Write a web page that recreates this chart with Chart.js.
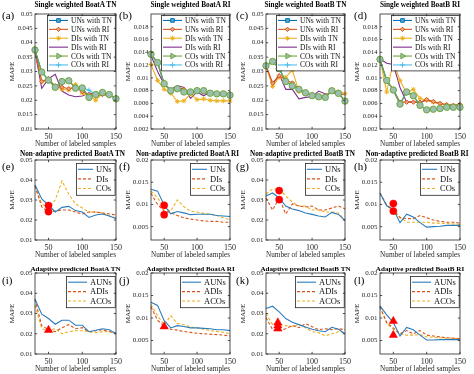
<!DOCTYPE html>
<html><head><meta charset="utf-8">
<script src="https://cdn.jsdelivr.net/npm/chart.js@4.4.1/dist/chart.umd.min.js"></script>
<style>
html,body{margin:0;padding:0;background:#fff;width:474px;height:374px;overflow:hidden;position:relative;}
canvas{position:absolute;}
.txt{position:absolute;white-space:nowrap;font-family:"Liberation Serif","Times New Roman",serif;color:#000;line-height:1;}
</style></head><body>
<script>
// ---------- data ----------
const samples = [30,40,50,60,70,80,90,100,110,120,130,140,150];
const xTicks = [50,100,150];
const yTicksA = [0.01,0.015,0.02,0.025,0.03,0.035,0.04,0.045,0.05];
const yTicksB = [0.002,0.004,0.006,0.008,0.01,0.012,0.014,0.016,0.018];
const yTicksE = [0.01,0.02,0.03,0.04,0.05];
const yTicksF = [0.005,0.01,0.015,0.02];
const rangeWide = [0.01,0.05];
const rangeNarrow = [0.002,0.02];

const row1Names = ['UNs with TN','UNs with RI','DIs with TN','DIs with RI','COs with TN','COs with RI'];
const row2Names = ['UNs','DIs','COs'];
const row3Names = ['AUNs','ADIs','ACOs'];
const panelLetters = ['(a)','(b)','(c)','(d)','(e)','(f)','(g)','(h)','(i)','(j)','(k)','(l)'];
const panelTitles = ['Single weighted BoatA TN','Single weighted BoatA RI','Single weighted BoatB TN','Single weighted BoatB RI',
  'Non-adaptive predicted BoatA TN','Non-adaptive predicted BoatA RI','Non-adaptive predicted BoatB TN','Non-adaptive predicted BoatB RI',
  'Adaptive predicted BoatA TN','Adaptive predicted BoatA RI','Adaptive predicted BoatB TN','Adaptive predicted BoatB RI'];
const xTitle = 'Number of labeled samples';
const yTitle = 'MAPE';

// (a)
const a_UNsTN = [0.0375,0.0298,0.027,0.0245,0.0265,0.0268,0.0242,0.0243,0.021,0.022,0.0227,0.022,0.0205];
const a_UNsRI = [0.0375,0.0265,0.0275,0.0248,0.0245,0.024,0.0245,0.023,0.022,0.0215,0.022,0.0215,0.021];
const a_DIsTN = [0.0375,0.0265,0.027,0.025,0.0238,0.0235,0.0255,0.0225,0.0215,0.02,0.0225,0.022,0.0205];
const a_DIsRI = [0.037,0.0241,0.0275,0.029,0.0232,0.0218,0.0212,0.0215,0.0225,0.0222,0.0225,0.0215,0.0212];
const a_COsTN = [0.0375,0.0298,0.027,0.0245,0.0265,0.0268,0.0242,0.0243,0.021,0.022,0.0227,0.022,0.0205];
const a_COsRI = [0.0375,0.0298,0.027,0.0245,0.0265,0.0268,0.0242,0.0243,0.0235,0.022,0.0227,0.022,0.0205];
// (b)
const b_UNsTN = [0.0137,0.0124,0.0091,0.008,0.0083,0.0078,0.0078,0.008,0.008,0.0076,0.0075,0.0075,0.0073];
const b_UNsRI = [0.0137,0.0124,0.009,0.008,0.0085,0.0082,0.0078,0.008,0.0078,0.0076,0.0075,0.0075,0.0073];
const b_DIsTN = [0.0121,0.0096,0.0082,0.0076,0.0063,0.0064,0.0075,0.0066,0.0067,0.0065,0.0064,0.0064,0.0064];
const b_DIsRI = [0.0135,0.011,0.009,0.0082,0.0088,0.0085,0.0068,0.0078,0.0072,0.0078,0.0076,0.0075,0.0073];
const b_COsTN = [0.0137,0.0124,0.0091,0.008,0.0083,0.0078,0.0078,0.008,0.008,0.0076,0.0075,0.0075,0.0073];
const b_COsRI = [0.0137,0.0124,0.0091,0.008,0.0083,0.0078,0.0078,0.008,0.008,0.0076,0.0075,0.0075,0.0073];
// (c)
const c_UNsTN = [0.032,0.0335,0.031,0.0265,0.025,0.0238,0.0226,0.0216,0.0212,0.021,0.0233,0.0224,0.0197];
const c_UNsRI = [0.032,0.026,0.0285,0.027,0.026,0.024,0.0225,0.0218,0.021,0.021,0.0233,0.0225,0.02];
const c_DIsTN = [0.032,0.0248,0.028,0.028,0.0305,0.023,0.0225,0.022,0.0215,0.0215,0.0235,0.023,0.0223];
const c_DIsRI = [0.032,0.0255,0.029,0.0238,0.0238,0.0205,0.021,0.0212,0.0232,0.0222,0.0225,0.0222,0.022];
const c_COsTN = [0.032,0.0335,0.031,0.0265,0.025,0.0238,0.0226,0.0216,0.0212,0.021,0.0233,0.0224,0.0197];
const c_COsRI = [0.032,0.0335,0.031,0.0265,0.025,0.0238,0.0226,0.0216,0.0212,0.021,0.0233,0.0224,0.0197];
// (d)
const d_UNsTN = [0.0129,0.0096,0.0081,0.0059,0.0078,0.0072,0.0057,0.005,0.0051,0.0052,0.0054,0.0054,0.0054];
const d_UNsRI = [0.013,0.0095,0.0082,0.0062,0.0062,0.0062,0.0062,0.0066,0.0063,0.006,0.0058,0.0057,0.0058];
const d_DIsTN = [0.013,0.0078,0.0125,0.0096,0.0076,0.0082,0.0068,0.0065,0.0062,0.006,0.0058,0.0057,0.0058];
const d_DIsRI = [0.013,0.0123,0.0121,0.0085,0.0062,0.0062,0.0062,0.0065,0.0062,0.006,0.0058,0.0057,0.0058];
const d_COsTN = [0.0129,0.0096,0.0081,0.0059,0.0078,0.0072,0.0057,0.005,0.0051,0.0052,0.0054,0.0054,0.0054];
const d_COsRI = [0.0129,0.0096,0.0081,0.0059,0.0078,0.0072,0.0057,0.005,0.0051,0.0052,0.0054,0.0054,0.0054];
// (e)
const e_UNs = [0.0375,0.0305,0.0275,0.024,0.0263,0.0268,0.0247,0.024,0.0213,0.0225,0.023,0.022,0.0208];
const e_DIs = [0.037,0.0265,0.024,0.0245,0.025,0.025,0.024,0.023,0.024,0.024,0.0235,0.023,0.0225];
const e_COs = [0.037,0.028,0.026,0.03,0.0395,0.033,0.028,0.026,0.024,0.024,0.0235,0.022,0.021];
// (f)
const f_UNs = [0.0134,0.013,0.0098,0.0079,0.0084,0.0081,0.0077,0.0078,0.0078,0.0078,0.0075,0.0074,0.0073];
const f_DIs = [0.0125,0.01,0.0085,0.0082,0.0075,0.007,0.0067,0.0065,0.0063,0.0062,0.0062,0.006,0.006];
const f_COs = [0.013,0.0115,0.0092,0.0085,0.011,0.0095,0.0085,0.0083,0.008,0.0078,0.0075,0.007,0.0065];
// (g)
const g_UNs = [0.032,0.0335,0.031,0.027,0.0255,0.0247,0.0235,0.0228,0.022,0.0215,0.0238,0.0228,0.0198];
const g_DIs = [0.031,0.025,0.031,0.023,0.028,0.027,0.0265,0.027,0.025,0.025,0.026,0.027,0.0255];
const g_COs = [0.033,0.0355,0.0355,0.032,0.029,0.027,0.027,0.025,0.025,0.024,0.024,0.0235,0.02];
// (h)
const h_UNs = [0.0126,0.0097,0.0089,0.0059,0.0078,0.0072,0.0059,0.0049,0.005,0.0051,0.0053,0.0053,0.0053];
const h_DIs = [0.0125,0.0098,0.0085,0.007,0.0068,0.0068,0.0075,0.007,0.0065,0.0062,0.006,0.006,0.0058];
const h_COs = [0.0125,0.01,0.0088,0.0072,0.006,0.006,0.006,0.006,0.0058,0.0058,0.0057,0.0056,0.0055];
// (i)
const i_AUNs = [0.037,0.0297,0.0275,0.0247,0.0267,0.0267,0.0242,0.0242,0.021,0.0217,0.0225,0.022,0.02];
const i_ADIs = [0.037,0.024,0.022,0.021,0.023,0.0245,0.0225,0.023,0.021,0.0215,0.022,0.021,0.0205];
const i_ACOs = [0.034,0.0225,0.0215,0.0225,0.02,0.021,0.0215,0.0215,0.021,0.0205,0.021,0.021,0.02];
// (j)
const j_AUNs = [0.0135,0.0128,0.0094,0.0078,0.0083,0.0081,0.0078,0.0078,0.0077,0.0076,0.0074,0.0074,0.0072];
const j_ADIs = [0.0125,0.0095,0.0082,0.0075,0.0073,0.007,0.0068,0.0066,0.0065,0.0064,0.0063,0.0062,0.006];
const j_ACOs = [0.013,0.0105,0.0085,0.0105,0.0088,0.0085,0.008,0.0078,0.0075,0.0072,0.007,0.0068,0.0065];
// (k)
const k_AUNs = [0.0325,0.0336,0.0308,0.0275,0.0257,0.0245,0.0233,0.0222,0.0215,0.021,0.0232,0.0222,0.02];
const k_ADIs = [0.028,0.022,0.0215,0.0225,0.024,0.023,0.025,0.0235,0.022,0.0225,0.022,0.0225,0.022];
const k_ACOs = [0.03,0.0245,0.0245,0.024,0.0235,0.0245,0.023,0.021,0.0205,0.019,0.02,0.021,0.0205];
// (l)
const l_AUNs = [0.0127,0.0107,0.009,0.006,0.0079,0.0074,0.0062,0.0051,0.0051,0.0052,0.0052,0.0052,0.0052];
const l_ADIs = [0.0125,0.009,0.0078,0.0065,0.0072,0.0065,0.0072,0.0062,0.006,0.0058,0.0056,0.0055,0.0054];
const l_ACOs = [0.0125,0.0088,0.0075,0.0065,0.0062,0.0062,0.0063,0.0058,0.0057,0.0056,0.0055,0.0055,0.0054];

// highlighted points (red markers)
const markX = [50,50,50,50,50,50,48,50];
const e_marks = [0.0272,0.0242];
const f_marks = [0.0098,0.0077];
const g_marks = [0.0347,0.0302];
const h_marks = [0.0102,0.0085];
const i_marks = [0.0218];
const j_marks = [0.0081];
const k_marks = [0.0255,0.024,0.0225];
const l_marks = [0.0093,0.0062];

// ---------- styles ----------
const FONT = '"Liberation Serif","Times New Roman",serif';
const colLeft = [35,151,266,380], colRight = [116,230,345,460];
const rowTop = [14,160,273], rowBottom = [129,240,354];
const row1Styles = [
  {color:'#0072BD', ps:'rect', r:2.6, fill:'#5aa9b8', lps:'rect', order:2},
  {color:'#D95319', ps:'rectRot', r:2.2, fill:'#e8a47c', lps:'rectRot', order:3},
  {color:'#EDB120', ps:'star', r:2.4, fill:'#EDB120', lps:'star', order:4},
  {color:'#7E2F8E', ps:'circle', r:0, fill:'#7E2F8E', lps:null, order:5},
  {color:'#6fa53a', ps:'circle', r:3.2, fill:'#9bbfb2', lps:'triangle', lrot:90, order:0},
  {color:'#4DBEEE', ps:'cross', r:2.6, fill:'#4DBEEE', lps:'cross', order:1}
];
const row23Styles = [
  {color:'#2b7cbc', dash:[], order:0},
  {color:'#D95319', dash:[3,2], order:1},
  {color:'#EDB120', dash:[3,2], order:2}
];

function fmt(v){ return String(parseFloat(Number(v).toFixed(4))); }

const framePlugin = {
  id:'frame',
  afterDraw(chart){
    const {ctx, chartArea:a, scales} = chart;
    ctx.save();
    ctx.strokeStyle = '#262626'; ctx.lineWidth = 0.8;
    ctx.strokeRect(a.left, a.top, a.right-a.left, a.bottom-a.top);
    const tl = 2.2;
    ctx.beginPath();
    scales.x.ticks.forEach(t=>{
      const px = scales.x.getPixelForValue(t.value);
      ctx.moveTo(px, a.bottom); ctx.lineTo(px, a.bottom-tl);
      ctx.moveTo(px, a.top); ctx.lineTo(px, a.top+tl);
    });
    scales.y.ticks.forEach(t=>{
      const py = scales.y.getPixelForValue(t.value);
      ctx.moveTo(a.left, py); ctx.lineTo(a.left+tl, py);
      ctx.moveTo(a.right, py); ctx.lineTo(a.right-tl, py);
    });
    ctx.stroke();
    ctx.restore();
  }
};

const legendPlugin = {
  id:'boxLegend',
  afterDatasetsDraw(chart, args, o){
    const {ctx, chartArea:a} = chart;
    const items = chart.data.datasets.filter(d=>!d.noLegend);
    ctx.save();
    ctx.font = o.fontSize + 'px ' + FONT;
    const tw = Math.max(...items.map(d=>ctx.measureText(d.label).width));
    const w = o.padL + o.sample + o.gap + tw + o.padR;
    const h = items.length*o.rowH + 2*o.padV;
    const x0 = Math.round(a.right - o.marginR - w), y0 = Math.round(a.top + o.marginT);
    ctx.fillStyle = '#fff'; ctx.fillRect(x0, y0, w, h);
    ctx.strokeStyle = '#262626'; ctx.lineWidth = 0.8; ctx.strokeRect(x0+0.5, y0+0.5, w, h);
    items.forEach((d,i)=>{
      const cy = y0 + o.padV + o.rowH*(i+0.5);
      const sx = x0 + o.padL;
      ctx.strokeStyle = d.borderColor; ctx.lineWidth = d.borderWidth;
      ctx.setLineDash(d.borderDash || []);
      ctx.beginPath(); ctx.moveTo(sx, cy); ctx.lineTo(sx+o.sample, cy); ctx.stroke();
      ctx.setLineDash([]);
      if (d.legendStyle && Chart.helpers && Chart.helpers.drawPoint) {
        ctx.fillStyle = d.pointBackgroundColor; ctx.strokeStyle = d.pointBorderColor; ctx.lineWidth = 1;
        Chart.helpers.drawPoint(ctx, {pointStyle:d.legendStyle, radius:d.pointRadius, rotation:d.legendRotation||0, borderWidth:1}, sx+o.sample/2, cy);
      }
      ctx.fillStyle = '#111'; ctx.textBaseline = 'middle'; ctx.textAlign = 'left';
      ctx.fillText(d.label, sx+o.sample+o.gap, cy+0.5);
    });
    ctx.restore();
  }
};

const legendRow = [
  {fontSize:7.5, rowH:8.9, padV:1, padL:2, sample:19, gap:3, padR:3, marginR:1.5, marginT:1},
  {fontSize:8.5, rowH:9.6, padV:1.5, padL:2, sample:15, gap:3, padR:3, marginR:1.5, marginT:3},
  {fontSize:8.5, rowH:9.4, padV:1.5, padL:2, sample:19, gap:3, padR:3, marginR:1.5, marginT:3}
];

function addText(text, x, y, size, bold, center){
  const d = document.createElement('div');
  d.className = 'txt'; d.textContent = text;
  d.style.fontSize = size+'px'; d.style.fontWeight = bold ? 'bold' : 'normal';
  d.style.left = x+'px'; d.style.top = (y - size/2)+'px';
  if (center) d.style.transform = 'translateX(-50%)';
  document.body.appendChild(d);
}

function makePanel(idx, seriesNames, seriesValues, styles, range, yTicks, marks, mx){
  const row = Math.floor(idx/4), col = idx%4;
  const pl = colLeft[col], pr = colRight[col], pt = rowTop[row], pb = rowBottom[row];
  const LM = 36, TM = 16, RM = 10, BM = 20;
  const cv = document.createElement('canvas');
  const W = pr - pl + LM + RM, H = pb - pt + TM + BM;
  cv.width = W; cv.height = H; cv.style.width = W+'px'; cv.style.height = H+'px';
  cv.style.left = (pl-LM)+'px'; cv.style.top = (pt-TM)+'px';
  document.body.appendChild(cv);

  const datasets = seriesNames.map((name, s)=>{
    const st = styles[s];
    return {
      label:name,
      data: samples.map((x,k)=>({x:x, y:seriesValues[s][k]})),
      borderColor: st.color, borderWidth: 1.1,
      borderDash: st.dash || [], order: st.order, clip: 6,
      pointRadius: row===0 ? st.r : 0,
      pointStyle: st.ps || 'circle',
      pointBackgroundColor: st.fill || st.color, pointBorderColor: st.color,
      pointBorderWidth: 1, tension: 0, fill:false,
      legendStyle: row===0 ? st.lps : null, legendRotation: st.lrot || 0
    };
  });
  if (marks) {
    datasets.push({
      label:'marks', noLegend:true, showLine:false, order:-1, clip:8,
      data: marks.map(v=>({x:mx, y:v})),
      pointStyle: row===2 ? 'triangle' : 'circle',
      pointRadius: row===2 ? 4.8 : 3.6,
      pointBackgroundColor:'#ff0000', pointBorderColor:'#ff0000', pointBorderWidth:0.5,
      borderColor:'#ff0000', borderWidth:0
    });
  }
  new Chart(cv, {
    type:'line',
    data:{datasets},
    options:{
      responsive:false, animation:false, devicePixelRatio:1,
      events:[],
      layout:{padding:{top:TM, right:RM, left:0, bottom:0}},
      plugins:{legend:{display:false}, tooltip:{enabled:false}, title:{display:false},
        boxLegend: legendRow[row]},
      scales:{
        x:{type:'linear', min:30, max:150,
          afterBuildTicks:s=>{ s.ticks = xTicks.map(v=>({value:v})); },
          afterFit:s=>{ s.height = BM; },
          grid:{display:false, drawTicks:false}, border:{display:false},
          ticks:{font:{family:FONT, size:8}, color:'#262626', padding:3, maxRotation:0, autoSkip:false},
          title:{display:true, text:xTitle, font:{family:FONT, size:7.5}, color:'#262626', padding:0}
        },
        y:{type:'linear', min:range[0], max:range[1],
          afterBuildTicks:s=>{ s.ticks = yTicks.map(v=>({value:v})); },
          afterFit:s=>{ s.width = LM; },
          grid:{display:false, drawTicks:false}, border:{display:false},
          ticks:{font:{family:FONT, size: row===0 ? 6.6 : 7}, color:'#262626', padding:2.5, callback:v=>fmt(v), autoSkip:false},
          title:{display:true, text:yTitle, font:{family:FONT, size:7}, color:'#262626', padding:{top:8.5, bottom:0}}
        }
      }
    },
    plugins:[legendPlugin, framePlugin]
  });

  const titleY = [5, 154.5, 269.3][row];
  const tsize = [7.3, 7.2, 7.1][row];
  addText(panelTitles[idx], (pl+pr)/2 - (row===1 ? 3 : 0), titleY, tsize, true, true);
  const letterX = [2,119,236,354][col];
  const letterY = [15,166,280][row];
  addText(panelLetters[idx], letterX, letterY, 11, false, false);
}

makePanel(0, row1Names, [a_UNsTN,a_UNsRI,a_DIsTN,a_DIsRI,a_COsTN,a_COsRI], row1Styles, rangeWide, yTicksA, null, 0);
makePanel(1, row1Names, [b_UNsTN,b_UNsRI,b_DIsTN,b_DIsRI,b_COsTN,b_COsRI], row1Styles, rangeNarrow, yTicksB, null, 0);
makePanel(2, row1Names, [c_UNsTN,c_UNsRI,c_DIsTN,c_DIsRI,c_COsTN,c_COsRI], row1Styles, rangeWide, yTicksA, null, 0);
makePanel(3, row1Names, [d_UNsTN,d_UNsRI,d_DIsTN,d_DIsRI,d_COsTN,d_COsRI], row1Styles, rangeNarrow, yTicksB, null, 0);
makePanel(4, row2Names, [e_UNs,e_DIs,e_COs], row23Styles, rangeWide, yTicksE, e_marks, markX[0]);
makePanel(5, row2Names, [f_UNs,f_DIs,f_COs], row23Styles, rangeNarrow, yTicksF, f_marks, markX[1]);
makePanel(6, row2Names, [g_UNs,g_DIs,g_COs], row23Styles, rangeWide, yTicksE, g_marks, markX[2]);
makePanel(7, row2Names, [h_UNs,h_DIs,h_COs], row23Styles, rangeNarrow, yTicksF, h_marks, markX[3]);
makePanel(8, row3Names, [i_AUNs,i_ADIs,i_ACOs], row23Styles, rangeWide, yTicksE, i_marks, markX[4]);
makePanel(9, row3Names, [j_AUNs,j_ADIs,j_ACOs], row23Styles, rangeNarrow, yTicksF, j_marks, markX[5]);
makePanel(10, row3Names, [k_AUNs,k_ADIs,k_ACOs], row23Styles, rangeWide, yTicksE, k_marks, markX[6]);
makePanel(11, row3Names, [l_AUNs,l_ADIs,l_ACOs], row23Styles, rangeNarrow, yTicksF, l_marks, markX[7]);
</script>
</body></html>
